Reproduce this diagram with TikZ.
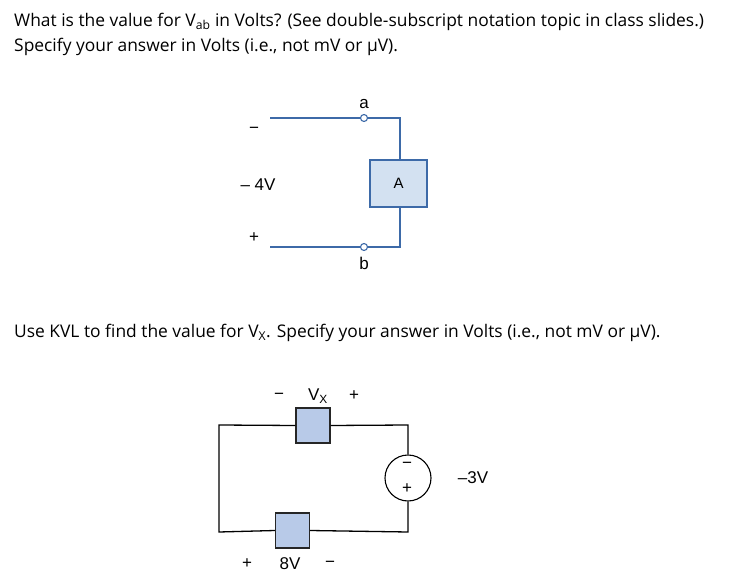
\documentclass[tikz,border=0pt]{standalone}
\usepackage{fontspec}
\setmainfont{Open Sans}
\newfontfamily\arialf{Liberation Sans}
\definecolor{wireblue}{HTML}{3D6AA8}
\definecolor{fillA}{HTML}{D3E1F1}
\definecolor{fillB}{HTML}{B8CAE8}
\begin{document}
\begin{tikzpicture}[x=1pt,y=-1pt,
 qtext/.style={anchor=west,inner sep=0,font=\fontsize{17.4}{20}\selectfont},
 lab/.style={inner sep=0,font=\arialf\fontsize{17}{19}\selectfont},
 bw/.style={draw=wireblue,line width=1.3pt},
 bk/.style={draw=black,line width=1.3pt},
 term/.style={circle,draw=wireblue,fill=white,line width=1.1pt,inner sep=0,minimum size=7pt},
 boxA/.style={draw=wireblue,fill=fillA,line width=1.1pt,minimum width=57pt,minimum height=47pt,inner sep=0,font=\arialf\fontsize{15}{17}\selectfont},
 boxB/.style={draw=black!85,fill=fillB,line width=1.1pt,minimum width=34pt,minimum height=35pt,inner sep=0}]
\useasboundingbox (0,0) rectangle (732,586);
\node[qtext] (q1) at (14,22) {What is the value for V\textsubscript{ab} in Volts? (See double-subscript notation topic in class slides.)};
\node[qtext] (q2) at (14,47) {Specify your answer in Volts (i.e., not mV or µV).};
\node[qtext] (q3) at (14,333) {Use KVL to find the value for V\textsubscript{X}. Specify your answer in Volts (i.e., not mV or µV).};
% upper circuit
\coordinate (ta) at (270,118);
\coordinate (tb) at (270,247);
\node[boxA] (A) at (398.5,183.5) {A};
\coordinate (tr) at (400,118);
\coordinate (br) at (400,247);
\draw[bw] (ta) -- (tr) -- (tr|-A.north);
\draw[bw] (tb) -- (br) -- (br|-A.south);
\node[term] (a) at (364,118) {};
\node[term] (b) at (364,247) {};
\node[lab] (la) at (364,104) {a};
\node[lab] (lb) at (364,263) {b};
\node[lab] (m1) at (254,130) {−};
\node[lab] (v4) at (258,185) {– 4V};
\node[lab] (p1) at (254,238) {+};
% lower circuit
\coordinate (c1) at (219,425);
\coordinate (c2) at (408,425);
\coordinate (c3) at (408,532);
\coordinate (c4) at (219,532);
\node[boxB] (B1) at (313,425.5) {};
\node[boxB] (B2) at (292.5,530.5) {};
\node[circle,draw=black,fill=white,line width=1.1pt,minimum size=46pt,inner sep=0] (S) at (408,478) {};
\draw[bk] (B1.east) -- (c2) -- (S.north);
\draw[bk] (S.south) -- (c3) -- (B2.east);
\draw[bk] (B2.west) -- (c4) -- (c1) -- (B1.west);
\node[lab] (sm) at (407,465) {−};
\node[lab] (sp) at (407,489) {+};
\node[lab] (l3) at (473,478) {–3V};
\node[lab] (vm) at (279,396) {−};
\node[lab] (vx) at (318,396) {V\textsubscript{X}};
\node[lab] (vp) at (354,396) {+};
\node[lab] (bp) at (247,564) {+};
\node[lab] (b8) at (290,564) {8V};
\node[lab] (bm) at (330,564) {−};
\end{tikzpicture}
\end{document}
